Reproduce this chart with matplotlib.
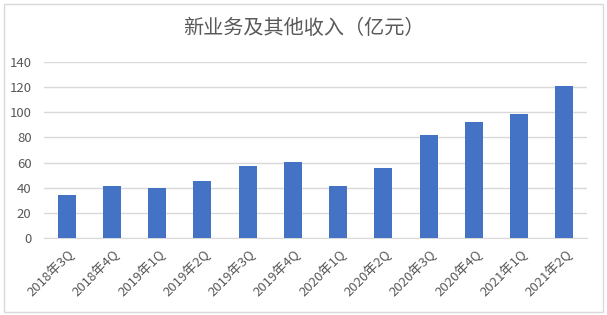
import matplotlib
matplotlib.use("Agg")
import matplotlib.pyplot as plt
from matplotlib.patches import Rectangle

plt.rcParams["font.family"] = ["Noto Sans CJK SC", "DejaVu Sans"]

# data
quarters = ["2018年3Q", "2018年4Q", "2019年1Q", "2019年2Q", "2019年3Q", "2019年4Q",
            "2020年1Q", "2020年2Q", "2020年3Q", "2020年4Q", "2021年1Q", "2021年2Q"]
revenue = [34.3, 41.5, 39.9, 45.4, 57.3, 60.5, 41.5, 55.7, 81.9, 92.2, 98.6, 120.8]
y_ticks = [0, 20, 40, 60, 80, 100, 120, 140]

TEXT = "#595959"
GRID = "#d9d9d9"
BLUE = "#4472c4"

fig = plt.figure(figsize=(6.07, 3.15), dpi=100)
# light outer frame like the spreadsheet chart area
fig.patches.append(Rectangle((4 / 607, 3 / 315), 599 / 607, 308 / 315, transform=fig.transFigure,
                             fill=False, edgecolor=GRID, lw=1.0))

ax = fig.add_axes([44 / 607, 1 - 238.3 / 315, 543 / 607, 176.6 / 315])
x = range(len(quarters))
ax.bar(x, revenue, width=0.4, color=BLUE, zorder=3)

ax.set_xlim(-0.5, len(quarters) - 0.5)
ax.set_ylim(0, 140)
ax.set_yticks(y_ticks)
ax.set_yticklabels([str(v) for v in y_ticks], color=TEXT, fontsize=9.5)
ax.set_xticks(list(x))
ax.set_xticklabels(quarters, rotation=45, ha="right", rotation_mode="anchor",
                   color=TEXT, fontsize=9.5)
ax.tick_params(length=0)
ax.tick_params(axis="y", pad=9)
ax.tick_params(axis="x", pad=6)
ax.grid(axis="y", color=GRID, lw=1.0, zorder=0)
for side in ["top", "right", "left"]:
    ax.spines[side].set_visible(False)
ax.spines["bottom"].set_color(GRID)

fig.text(0.5, 1 - 28 / 315, "新业务及其他收入（亿元）", ha="center", va="center",
         fontsize=14.5, color=TEXT)

fig.savefig("out.png", dpi=100)
